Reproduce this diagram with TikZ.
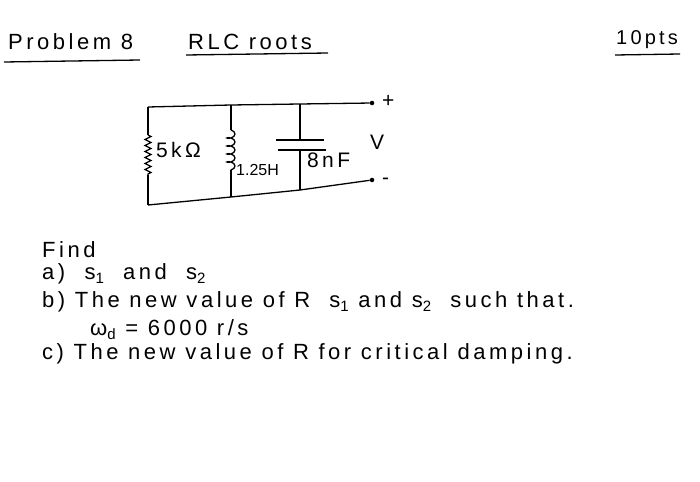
\documentclass[tikz,border=0pt]{standalone}
\usepackage{fontspec}
\setmainfont{Liberation Sans}
\newfontfamily\spaced[LetterSpace=16]{Liberation Sans}
\usetikzlibrary{decorations.pathmorphing}
\newcommand{\sub}[1]{\raisebox{-4pt}{\fontsize{15}{15}\selectfont #1}}
\begin{document}
\begin{tikzpicture}[x=1pt,y=-1pt,
  wire/.style={line width=1.3pt},
  txt/.style={anchor=west,inner sep=0pt,font=\spaced\fontsize{22}{24}\selectfont},
  small/.style={anchor=west,inner sep=0pt,font=\spaced\fontsize{21}{23}\selectfont},
  term/.style={circle,fill,inner sep=1.6pt}]
\useasboundingbox[fill=white] (0,0) rectangle (700,481);
% header
\node[txt] (p) at (8,42) {Problem 8};
\node[txt] (r) at (188,42) {RLC roots};
\node[txt,font=\spaced\fontsize{20}{22}\selectfont] (pts) at (616,40) {10pts};
\draw[wire] (4,62) -- (140,60);
\draw[wire] (186,55) -- (328,53);
\draw[wire] (615,55) -- (680,54);
% circuit
\coordinate (tl) at (148,107);
\coordinate (tm) at (231,105);
\coordinate (tc) at (300,104);
\node[term] (tp) at (372,103) {};
\coordinate (bl) at (148,205);
\coordinate (bm) at (231,197);
\coordinate (bc) at (300,190);
\node[term] (tn) at (372,180) {};
\draw[wire] (tl) -- (tm) -- (tc) -- (tp);
\draw[wire] (bl) -- (bm) -- (bc) -- (tn);
\draw[wire] (tl) -- (148,135);
\draw[wire,decoration={zigzag,segment length=6pt,amplitude=3pt},decorate] (148,135) -- (148,175);
\draw[wire] (148,175) -- (bl);
\draw[wire] (tm) -- (231,130);
\draw[wire,decoration={coil,segment length=8pt,amplitude=4pt,aspect=0.5},decorate] (231,130) -- (231,170);
\draw[wire] (231,170) -- (bm);
\draw[wire] (tc) -- (300,140);
\draw[wire] (276,140) -- (324,140);
\draw[wire] (278,150) -- (326,150);
\draw[wire] (300,150) -- (bc);
\node[small] (lr) at (156,150) {5kΩ};
\node[small,font=\fontsize{16}{18}\selectfont] (ll) at (236,170) {1.25H};
\node[small] (lc) at (307,160) {8nF};
\node[small] (lv) at (370,142) {V};
\node[small,anchor=west] (pl) at (382,101) {+};
\node[small,anchor=west] (mi) at (382,181) {-};
% text
\node[txt] (f) at (42,250) {Find};
\node[txt] (a) at (42,274) {a)\ \ s\sub{1}\ \ and\ \ s\sub{2}};
\node[txt] (b) at (42,302) {b) The new value of R\ \ s\sub{1} and s\sub{2}\ \ such that.};
\node[txt] (w) at (90,330) {ω\sub{d} = 6000 r/s};
\node[txt] (c) at (42,354) {c) The new value of R for critical damping.};
\end{tikzpicture}
\end{document}
